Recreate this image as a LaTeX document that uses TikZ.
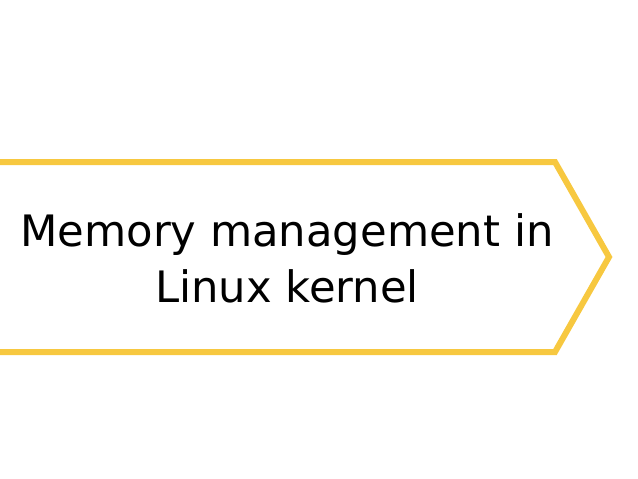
\documentclass[tikz,border=0pt]{standalone}
\usepackage{fontspec}
\setmainfont{DejaVu Sans}
\definecolor{ylw}{RGB}{247,200,64}
\begin{document}
\begin{tikzpicture}[x=1pt,y=-1pt]
\useasboundingbox (0,0) rectangle (638,479);
\draw[ylw,line width=6pt,line join=miter] (-10,162) -- (555,162) -- (609,257) -- (555,352) -- (-10,352);
\node[align=center,font=\fontsize{43.3}{56}\selectfont] (t) at (287,258) {Memory management in\\Linux kernel};
\end{tikzpicture}
\end{document}
